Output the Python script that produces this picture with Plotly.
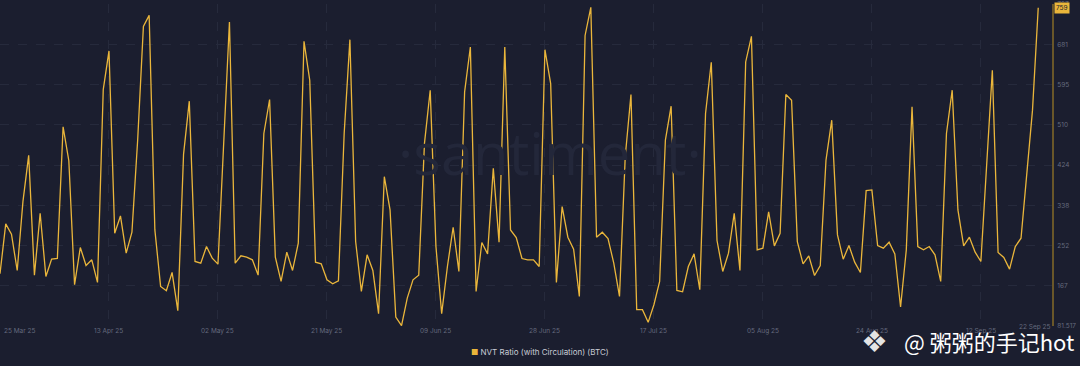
import pandas as pd
import plotly.graph_objects as go

start_date = "2025-03-25"
nvt_values = [
    192.7, 298.9, 276.9, 199.7, 346.3, 444.7, 189.8, 321.5, 187.0, 223.8,
    225.2, 505.6, 433.4, 169.3, 248.6, 210.4, 222.4, 174.3, 584.9, 667.0,
    279.0, 315.8, 236.6, 281.2, 477.3, 719.4, 742.8, 286.1, 165.8, 156.6,
    195.5, 114.1, 447.5, 560.1, 218.9, 215.3, 250.7, 226.0, 213.2, 463.0,
    728.6, 215.3, 230.9, 228.0, 222.4, 189.8, 491.4, 563.7, 228.0, 176.4,
    238.7, 199.7, 257.8, 687.6, 604.7, 217.4, 213.9, 179.9, 171.4, 177.8,
    491.4, 691.1, 261.3, 155.1, 233.0, 199.7, 107.7, 399.4, 328.6, 100.6,
    82.2, 141.0, 179.9, 189.8, 470.2, 583.5, 250.7, 107.7, 208.2, 291.8,
    197.6, 580.0, 675.5, 155.1, 259.2, 235.1, 417.1, 259.9, 675.5, 286.1,
    269.8, 225.2, 222.4, 222.4, 208.2, 669.8, 597.6, 174.3, 335.7, 270.5,
    245.0, 144.5, 700.0, 760.0, 270.5, 281.2, 267.7, 215.3, 144.5, 441.9,
    574.3, 116.2, 116.2, 89.3, 126.8, 176.4, 477.3, 549.5, 157.3, 154.4,
    208.2, 235.1, 158.7, 533.9, 642.9, 263.5, 197.6, 236.6, 321.5, 199.7,
    643.6, 698.2, 243.6, 247.2, 324.3, 252.1, 279.0, 574.3, 562.2, 261.3,
    213.9, 230.9, 189.0, 210.4, 434.8, 519.7, 275.5, 223.8, 252.8, 217.4,
    195.5, 369.7, 371.1, 252.8, 247.2, 259.9, 235.1, 121.9, 243.6, 548.0,
    250.7, 243.6, 250.7, 233.0, 176.4, 491.4, 583.5, 328.6, 252.1, 270.5,
    238.7, 218.9, 420.6, 625.9, 238.0, 227.4, 202.6, 250.7, 268.4, 406.5,
    541.0, 759.0,
]
dates = pd.date_range(start_date, periods=len(nvt_values), freq="D")

x_tick_dates = ["2025-03-25", "2025-04-13", "2025-05-02", "2025-05-21", "2025-06-09",
                "2025-06-28", "2025-07-17", "2025-08-05", "2025-08-24", "2025-09-12"]
x_tick_text = ["25 Mar 25", "13 Apr 25", "02 May 25", "21 May 25", "09 Jun 25",
               "28 Jun 25", "17 Jul 25", "05 Aug 25", "24 Aug 25", "12 Sep 25"]
last_date_label = "22 Sep 25"
y_tick_vals = [81.517, 167, 252, 338, 424, 510, 595, 681, 767]
y_tick_text = ["81.517", "167", "252", "338", "424", "510", "595", "681", "767"]
series_name = "NVT Ratio (with Circulation) (BTC)"

BG = "#1b1e2f"
LINE = "#eab63b"
GRID = "#262a3c"
TICK = "#656a7e"

W, H = 1080, 366
ML, MR, MT, MB = 0, 28, 4, 40
PW, PH = W - ML - MR, H - MT - MB


def px_to_paper(px, py):
    return (px - ML) / PW, (H - MB - py) / PH


fig = go.Figure()
fig.add_trace(go.Scatter(x=dates, y=nvt_values, mode="lines",
                         line=dict(color=LINE, width=1.3), showlegend=False,
                         name=series_name))

x_end = pd.Timestamp(start_date) + pd.Timedelta(hours=183.4 * 24)

fig.update_layout(
    width=W, height=H,
    paper_bgcolor=BG, plot_bgcolor=BG,
    margin=dict(l=ML, r=MR, t=MT, b=MB),
    xaxis=dict(range=[pd.Timestamp(start_date), x_end], tickvals=x_tick_dates,
               showticklabels=False, showgrid=True, gridcolor=GRID, griddash="dash",
               gridwidth=1, zeroline=False, showline=False),
    yaxis=dict(side="right", range=[81.517, 767], tickvals=y_tick_vals, ticktext=y_tick_text,
               showgrid=True, gridcolor=GRID, griddash="dash", gridwidth=1,
               zeroline=False, showline=True, linecolor="#6a5729", linewidth=2,
               tickfont=dict(size=6.5, color=TICK, family="Inter"), ticks="",
               ticklabelstandoff=2),
    font=dict(family="Inter"),
)

annotations = []
for i, (d, t) in enumerate(zip(x_tick_dates, x_tick_text)):
    annotations.append(dict(x=d, y=0, xref="x", yref="paper", yshift=-11,
                            text=t, showarrow=False,
                            xanchor="left" if i == 0 else "center",
                            xshift=2 if i == 0 else 0,
                            font=dict(size=6.5, color=TICK, family="Inter")))
annotations.append(dict(x=1, y=0, xref="paper", yref="paper", yshift=-7,
                        text=last_date_label, showarrow=False, xanchor="right",
                        font=dict(size=6.5, color=TICK, family="Inter")))
annotations.append(dict(x=1, y=nvt_values[-1], xref="paper", yref="y", xanchor="left",
                        xshift=2, text=f"{nvt_values[-1]:.0f}", showarrow=False,
                        bgcolor=LINE, borderpad=1,
                        font=dict(size=6.5, color="#1b1e2f", family="Inter")))
wx, wy = px_to_paper(550, 152)
annotations.append(dict(x=wx, y=wy, xref="paper", yref="paper",
                        text="·santiment·", showarrow=False,
                        font=dict(size=58, color="#23273a", family="Open Sans")))
lx, ly = px_to_paper(540, 352)
annotations.append(dict(x=lx, y=ly, xref="paper", yref="paper", yanchor="middle",
                        text=f'<span style="color:{LINE}">■</span> {series_name}',
                        showarrow=False,
                        font=dict(size=8, color="#c9ccd6", family="Inter")))
gx, gy = px_to_paper(874, 341)
annotations.append(dict(x=gx, y=gy, xref="paper", yref="paper",
                        xanchor="center", yanchor="middle", text="❖", showarrow=False,
                        font=dict(size=30, color="#e4e4e4", family="DejaVu Sans")))
bx, by = px_to_paper(1076, 341)
annotations.append(dict(x=bx, y=by, xref="paper", yref="paper",
                        xanchor="right", yanchor="middle",
                        text="@ 粥粥的手记hot", showarrow=False,
                        font=dict(size=22, color="#ffffff", family="Noto Sans CJK SC")))
fig.update_layout(annotations=annotations)

fig.write_html("out.html", config={"displayModeBar": False},
               post_script="document.body.style.margin='0';document.body.style.overflow='hidden';document.body.style.background='#1b1e2f';")
